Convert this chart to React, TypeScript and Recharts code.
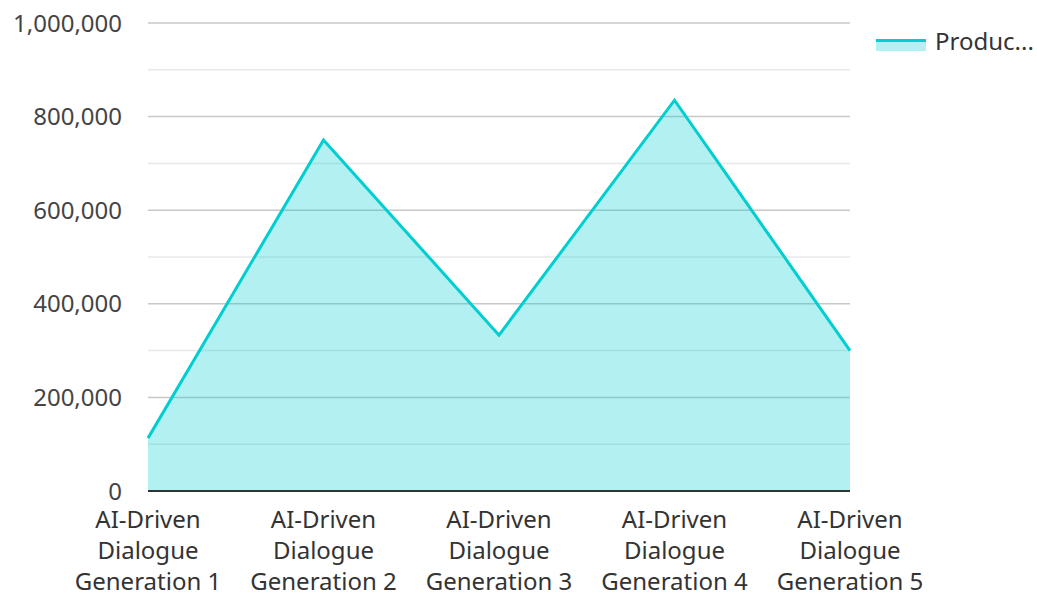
import { AreaChart, Area, XAxis, YAxis, CartesianGrid } from "recharts";

const categories = [
  "AI-Driven Dialogue Generation 1",
  "AI-Driven Dialogue Generation 2",
  "AI-Driven Dialogue Generation 3",
  "AI-Driven Dialogue Generation 4",
  "AI-Driven Dialogue Generation 5",
];
const productValues = [113000, 750000, 333000, 835000, 300000];
const yTicks = [0, 200000, 400000, 600000, 800000, 1000000];
const minorTicks = [100000, 300000, 500000, 700000, 900000];
const seriesName = "Production";

const data = categories.map((name, i) => ({ name, value: productValues[i] }));

const font = '"Noto Sans", "Open Sans", sans-serif';
const teal = "#00CED1";

const XTick = (props: any) => {
  const { x, y, payload } = props;
  const words = String(payload.value).split(" ");
  const lines = [words[0], words[1], words.slice(2).join(" ")];
  return (
    <text x={x} y={y} textAnchor="middle" fill="#333" fontSize={24} fontFamily={font}>
      {lines.map((l, i) => (
        <tspan key={i} x={x} dy={i === 0 ? 29 : 31}>
          {l}
        </tspan>
      ))}
    </text>
  );
};

// legend sits outside the plot layout, top-right
const LegendBox = () => (
  <div
    style={{
      position: "absolute",
      left: 876,
      top: 24,
      display: "flex",
      alignItems: "center",
      fontFamily: font,
      fontSize: 24,
      color: "#333",
      whiteSpace: "nowrap",
    }}
  >
    <svg width={50} height={20} style={{ marginRight: 9 }}>
      <rect x={0} y={8} width={50} height={12} fill={teal} fillOpacity={0.3} />
      <line x1={0} y1={9.5} x2={50} y2={9.5} stroke={teal} strokeWidth={3} />
    </svg>
    <span title={seriesName}>Produc...</span>
  </div>
);

export default function App() {
  return (
    <div style={{ position: "absolute", left: 0, top: 0, width: 1037, height: 595, background: "#fff" }}>
      <AreaChart width={1037} height={595} data={data} margin={{ top: 23, right: 187, bottom: 0, left: 0 }}>
        <CartesianGrid vertical={false} horizontalValues={minorTicks} stroke="#e8e8e8" strokeWidth={1.5} />
        <CartesianGrid vertical={false} horizontalValues={yTicks} stroke="#c8c8c8" strokeWidth={1.5} />
        <XAxis
          dataKey="name"
          tick={<XTick />}
          tickLine={false}
          axisLine={{ stroke: "#333", strokeWidth: 2 }}
          interval={0}
          height={104}
        />
        <YAxis
          domain={[0, 1000000]}
          ticks={yTicks}
          width={148}
          tickLine={false}
          axisLine={false}
          tickMargin={20}
          tickFormatter={(v: number) => v.toLocaleString("en-US")}
          tick={{ fill: "#444", fontSize: 24, fontFamily: font }}
        />
        <Area
          type="linear"
          dataKey="value"
          name={seriesName}
          stroke={teal}
          strokeWidth={3}
          fill={teal}
          fillOpacity={0.3}
          dot={false}
          activeDot={false}
          isAnimationActive={false}
        />
      </AreaChart>
      <LegendBox />
    </div>
  );
}
